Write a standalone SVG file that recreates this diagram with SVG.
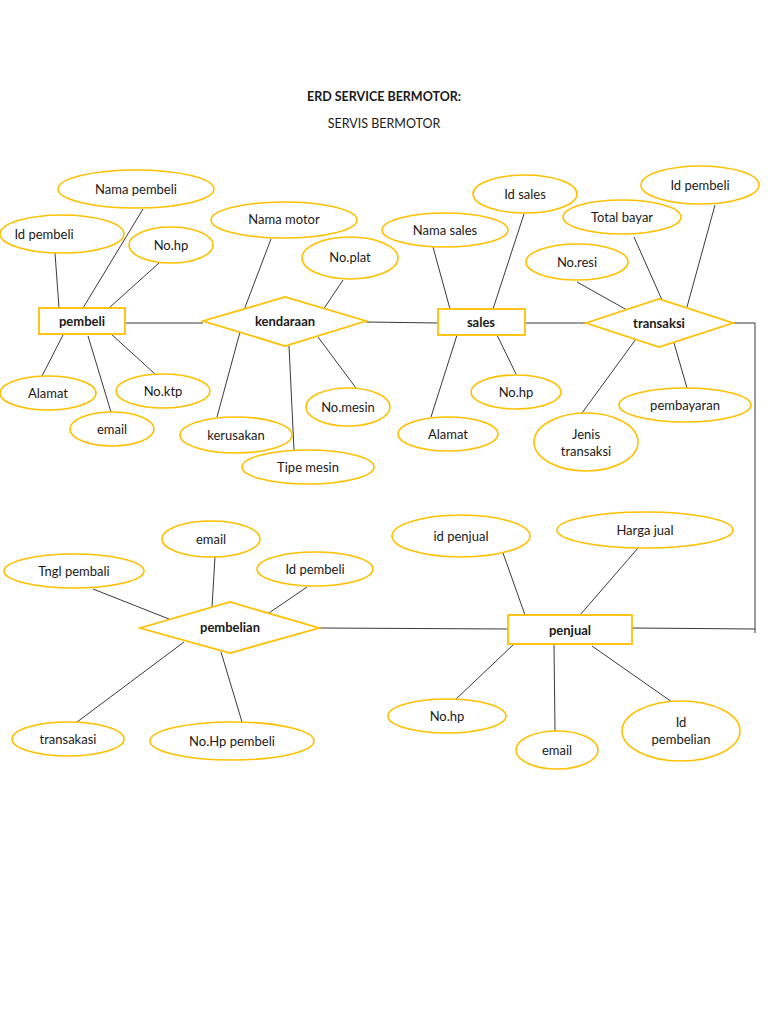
<svg xmlns="http://www.w3.org/2000/svg" width="768" height="1024" viewBox="0 0 768 1024">
<style>
text{font-family:Lato,"Liberation Sans",sans-serif;font-size:13px;fill:#1a1a1a;text-anchor:middle;dominant-baseline:central}
.b{font-weight:bold}
.attr ellipse{fill:#fff;stroke:#FFC000;stroke-width:1.6}
.ent rect,.rel polygon{fill:#fff;stroke:#FFC000;stroke-width:1.8}
#connectors line,#connectors polyline{stroke:#3a3a3a;stroke-width:1;fill:none}
</style>
<rect width="768" height="1024" fill="#fff"/>
<text class="b" x="384" y="96" style="font-size:12.5px">ERD SERVICE BERMOTOR:</text>
<text x="384" y="123" style="font-size:12.5px">SERVIS BERMOTOR</text>

<g id="connectors">
<line x1="55" y1="253" x2="59" y2="308"/>
<line x1="143" y1="209" x2="83" y2="308"/>
<line x1="159" y1="263" x2="109" y2="308"/>
<line x1="125" y1="323" x2="203" y2="323"/>
<line x1="63" y1="335" x2="42" y2="376"/>
<line x1="88" y1="336" x2="111" y2="412"/>
<line x1="110" y1="333" x2="155" y2="374"/>
<line x1="271" y1="239" x2="244" y2="310"/>
<line x1="343" y1="280" x2="323" y2="310"/>
<line x1="240" y1="332" x2="217" y2="417"/>
<line x1="289" y1="346" x2="294" y2="450"/>
<line x1="318" y1="337" x2="356" y2="388"/>
<line x1="366" y1="322" x2="438" y2="323"/>
<line x1="433" y1="247" x2="450" y2="309"/>
<line x1="524" y1="214" x2="493" y2="309"/>
<line x1="457" y1="335" x2="431" y2="417"/>
<line x1="497" y1="335" x2="516" y2="374"/>
<line x1="525" y1="323" x2="586" y2="323"/>
<line x1="577" y1="282" x2="627" y2="310"/>
<line x1="634" y1="237" x2="662" y2="300"/>
<line x1="715" y1="205" x2="687" y2="307"/>
<line x1="636" y1="339" x2="582" y2="413"/>
<line x1="674" y1="343" x2="687" y2="388"/>
<polyline points="733,323 755,323 755,633"/>
<line x1="632" y1="628" x2="755" y2="629"/>
<line x1="215" y1="557" x2="212" y2="607"/>
<line x1="93" y1="589" x2="169" y2="619"/>
<line x1="307" y1="587" x2="266" y2="615"/>
<line x1="184" y1="642" x2="77" y2="722"/>
<line x1="221" y1="652" x2="242" y2="722"/>
<line x1="319" y1="628" x2="508" y2="629"/>
<line x1="503" y1="553" x2="525" y2="615"/>
<line x1="638" y1="548" x2="580" y2="615"/>
<line x1="513" y1="645" x2="455" y2="700"/>
<line x1="554" y1="645" x2="555" y2="731"/>
<line x1="592" y1="646" x2="672" y2="702"/>
</g>

<g id="pembeli" class="ent"><rect x="39" y="308" width="86" height="26"/><text class="b" x="82" y="321">pembeli</text></g>
<g id="sales" class="ent"><rect x="438" y="309" width="87" height="26"/><text class="b" x="481" y="322">sales</text></g>
<g id="penjual" class="ent"><rect x="508" y="615" width="124" height="29"/><text class="b" x="570" y="630">penjual</text></g>

<g id="kendaraan" class="rel"><polygon points="203,321 285,297 366,321 285,346"/><text class="b" x="285" y="321">kendaraan</text></g>
<g id="transaksi" class="rel"><polygon points="586,323 659,299 733,323 659,347"/><text class="b" x="659" y="323">transaksi</text></g>
<g id="pembelian" class="rel"><polygon points="140,628 230,602 319,628 230,653"/><text class="b" x="230" y="627">pembelian</text></g>

<g id="a-nama-pembeli" class="attr"><ellipse cx="136" cy="189" rx="78" ry="19"/><text x="136" y="189">Nama pembeli</text></g>
<g id="a-id-pembeli" class="attr"><ellipse cx="62" cy="234" rx="62" ry="19"/><text x="44" y="234">Id pembeli</text></g>
<g id="a-nohp" class="attr"><ellipse cx="171" cy="245" rx="42" ry="18"/><text x="171" y="245">No.hp</text></g>
<g id="a-alamat" class="attr"><ellipse cx="48" cy="393" rx="48" ry="17"/><text x="48" y="393">Alamat</text></g>
<g id="a-email" class="attr"><ellipse cx="112" cy="429" rx="42" ry="17"/><text x="112" y="429">email</text></g>
<g id="a-noktp" class="attr"><ellipse cx="163" cy="391" rx="47" ry="17"/><text x="163" y="391">No.ktp</text></g>
<g id="a-nama-motor" class="attr"><ellipse cx="284" cy="220" rx="73" ry="18"/><text x="284" y="219">Nama motor</text></g>
<g id="a-noplat" class="attr"><ellipse cx="350" cy="258" rx="48" ry="21"/><text x="350" y="257">No.plat</text></g>
<g id="a-kerusakan" class="attr"><ellipse cx="236" cy="435" rx="56" ry="18"/><text x="236" y="435">kerusakan</text></g>
<g id="a-tipe-mesin" class="attr"><ellipse cx="308" cy="467" rx="66" ry="17"/><text x="308" y="467">Tipe mesin</text></g>
<g id="a-nomesin" class="attr"><ellipse cx="348" cy="407" rx="42" ry="19"/><text x="348" y="407">No.mesin</text></g>
<g id="a-id-sales" class="attr"><ellipse cx="525" cy="194" rx="52" ry="19"/><text x="525" y="194">Id sales</text></g>
<g id="a-nama-sales" class="attr"><ellipse cx="445" cy="230" rx="63" ry="17"/><text x="445" y="230">Nama sales</text></g>
<g id="a-sales-nohp" class="attr"><ellipse cx="516" cy="392" rx="45" ry="17"/><text x="516" y="392">No.hp</text></g>
<g id="a-sales-alamat" class="attr"><ellipse cx="448" cy="434" rx="50" ry="17"/><text x="448" y="434">Alamat</text></g>
<g id="a-t-id-pembeli" class="attr"><ellipse cx="700" cy="185" rx="59" ry="19"/><text x="700" y="185">Id pembeli</text></g>
<g id="a-total-bayar" class="attr"><ellipse cx="622" cy="217" rx="59" ry="17"/><text x="622" y="217">Total bayar</text></g>
<g id="a-noresi" class="attr"><ellipse cx="577" cy="262" rx="51" ry="18"/><text x="577" y="262">No.resi</text></g>
<g id="a-pembayaran" class="attr"><ellipse cx="685" cy="405" rx="66" ry="17"/><text x="685" y="405">pembayaran</text></g>
<g id="a-jenis-transaksi" class="attr"><ellipse cx="586" cy="442" rx="52" ry="29"/><text x="586" y="434">Jenis</text><text x="586" y="451">transaksi</text></g>
<g id="a-p-email" class="attr"><ellipse cx="211" cy="539" rx="49" ry="18"/><text x="211" y="539">email</text></g>
<g id="a-tngl" class="attr"><ellipse cx="74" cy="571" rx="70" ry="17"/><text x="74" y="571">Tngl pembali</text></g>
<g id="a-p-id-pembeli" class="attr"><ellipse cx="315" cy="569" rx="58" ry="17"/><text x="315" y="569">Id pembeli</text></g>
<g id="a-transakasi" class="attr"><ellipse cx="68" cy="739" rx="56" ry="17"/><text x="68" y="739">transakasi</text></g>
<g id="a-nohp-pembeli" class="attr"><ellipse cx="232" cy="741" rx="82" ry="19"/><text x="232" y="741">No.Hp pembeli</text></g>
<g id="a-id-penjual" class="attr"><ellipse cx="461" cy="536" rx="69" ry="21"/><text x="461" y="536">id penjual</text></g>
<g id="a-harga-jual" class="attr"><ellipse cx="645" cy="530" rx="88" ry="18"/><text x="645" y="530">Harga jual</text></g>
<g id="a-j-nohp" class="attr"><ellipse cx="447" cy="716" rx="59" ry="17"/><text x="447" y="716">No.hp</text></g>
<g id="a-j-email" class="attr"><ellipse cx="557" cy="750" rx="41" ry="19"/><text x="557" y="750">email</text></g>
<g id="a-id-pembelian" class="attr"><ellipse cx="681" cy="731" rx="59" ry="30"/><text x="681" y="722">Id</text><text x="681" y="739">pembelian</text></g>
</svg>
